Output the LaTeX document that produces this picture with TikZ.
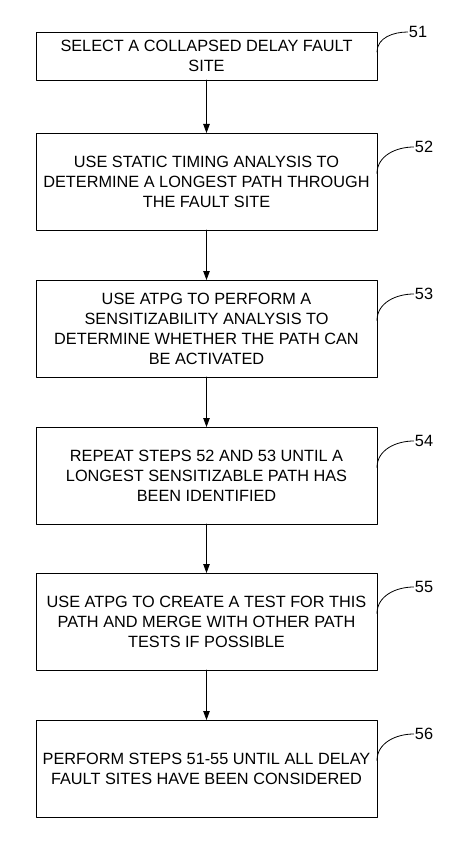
\documentclass[tikz,border=0pt]{standalone}
\usepackage{fontspec}
\setmainfont{Liberation Sans}
\usetikzlibrary{arrows.meta,positioning,calc}
\tikzset{
    every picture/.style={line cap=round,line join=round},
    stepbox/.style={draw=black,line width=0.9pt,
      minimum width=341pt,minimum height=97pt,inner sep=2pt,outer sep=0pt,
      align=center,font=\fontsize{16.3}{20}\selectfont},
    reftag/.style={inner sep=1pt,font=\fontsize{16.3}{20}\selectfont},
    flowarrow/.style={-{Triangle[length=9pt,width=6.5pt]},draw=black,
      line width=0.8pt},
    tagline/.style={draw=black,line width=0.8pt}
}

\begin{document}
\begin{tikzpicture}
  \useasboundingbox (0,0) rectangle (474pt,-845pt);
  \node[stepbox,minimum height=48pt,anchor=north] (s51) at (206.5pt,-32pt)
    {SELECT A COLLAPSED DELAY FAULT\\SITE};
  \node[stepbox,below=53pt of s51] (s52)
    {USE STATIC TIMING ANALYSIS TO\\DETERMINE A LONGEST PATH THROUGH\\THE FAULT SITE};
  \node[stepbox,below=50pt of s52] (s53)
    {USE ATPG TO PERFORM A\\SENSITIZABILITY ANALYSIS TO\\DETERMINE WHETHER THE PATH CAN\\BE ACTIVATED};
  \node[stepbox,below=50pt of s53] (s54)
    {REPEAT STEPS 52 AND 53 UNTIL A\\LONGEST SENSITIZABLE PATH HAS\\BEEN IDENTIFIED};
  \node[stepbox,below=49pt of s54] (s55)
    {USE ATPG TO CREATE A TEST FOR THIS\\PATH AND MERGE WITH OTHER PATH\\TESTS IF POSSIBLE};
  \node[stepbox,below=50pt of s55] (s56)
    {PERFORM STEPS 51-55 UNTIL ALL DELAY\\FAULT SITES HAVE BEEN CONSIDERED};
  \foreach \a/\b in {s51/s52,s52/s53,s53/s54,s54/s55,s55/s56}
    \draw[flowarrow] (\a) -- (\b);
  \node[reftag] (t51) at ($(s51.north east)+(41pt,0pt)$) {51};
  \draw[tagline] ([yshift=4pt]s51.east) to[out=90,in=180] (t51.west);
  \foreach \s in {52,53,54,55,56}{
    \node[reftag] (t\s) at ($(s\s.north east)+(47pt,-14pt)$) {\s};
    \draw[tagline] ([yshift=8pt]s\s.east) to[out=90,in=180] (t\s.west);
  }
\end{tikzpicture}
\end{document}
